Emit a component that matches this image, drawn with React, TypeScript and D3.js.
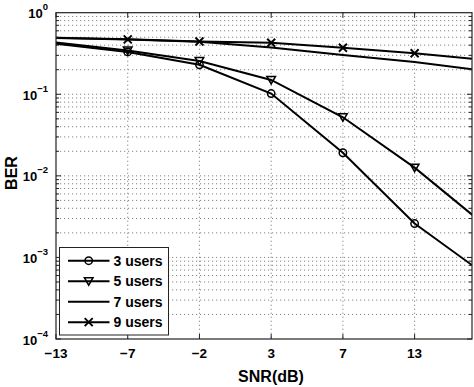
import * as d3 from "d3";
import { useEffect, useRef } from "react";

// x positions are evenly spaced indices, labelled with these SNR values
const snrLabels = ["−13", "−7", "−2", "3", "7", "13"];
// BER per index; the last point sits past the right edge of the axes
const ber3 = [0.415, 0.33, 0.23, 0.102, 0.0192, 0.0026, 0.0006];
const ber5 = [0.43, 0.345, 0.256, 0.15, 0.0523, 0.0126, 0.0024];
const ber7 = [0.49, 0.47, 0.44, 0.375, 0.303, 0.249, 0.193];
const ber9 = [0.494, 0.472, 0.443, 0.428, 0.372, 0.318, 0.262];
const seriesNames = ["3 users", "5 users", "7 users", "9 users"];
const seriesMarkers = ["circle", "triangle", "none", "cross"];
const yExponents = [0, -1, -2, -3, -4];

const FONT = "'Liberation Sans', Arial, Helvetica, sans-serif";

function drawMarker(g: any, kind: string, x: number, y: number) {
  if (kind === "circle") {
    g.append("circle")
      .attr("cx", x)
      .attr("cy", y)
      .attr("r", 3.7)
      .attr("fill", "none")
      .attr("stroke", "#000")
      .attr("stroke-width", 1.5);
  } else if (kind === "triangle") {
    g.append("path")
      .attr("d", `M${x - 4.3},${y - 3.5}L${x + 4.3},${y - 3.5}L${x},${y + 4}Z`)
      .attr("fill", "none")
      .attr("stroke", "#000")
      .attr("stroke-width", 1.5);
  } else if (kind === "cross") {
    g.append("path")
      .attr("d", `M${x - 4},${y - 4}L${x + 4},${y + 4}M${x - 4},${y + 4}L${x + 4},${y - 4}`)
      .attr("stroke", "#000")
      .attr("stroke-width", 1.9);
  }
}

export default function App() {
  const svgRef = useRef<SVGSVGElement>(null);

  useEffect(() => {
    const w = 474;
    const h = 387;
    const left = 56;
    const right = 472;
    const top = 12.7;
    const bottom = 339;

    const svg = d3.select(svgRef.current).attr("width", w).attr("height", h);
    svg.selectAll("*").remove();

    const x = d3.scaleLinear().domain([0, 5.8]).range([left, right]);
    const y = d3.scaleLog().domain([1e-4, 1]).range([bottom, top]);

    svg.append("rect").attr("width", w).attr("height", h).attr("fill", "#fff");

    //grid
    const grid = svg.append("g").attr("stroke", "#777").attr("stroke-width", 0.9).attr("stroke-dasharray", "1.2,2.8");
    snrLabels.forEach((_, i) => {
      if (i === 0) return;
      grid.append("line").attr("x1", x(i)).attr("x2", x(i)).attr("y1", top).attr("y2", bottom);
    });
    const minorVals: number[] = [];
    yExponents.slice(1).forEach((e) => {
      for (let j = 1; j <= 9; j++) minorVals.push(j * Math.pow(10, e));
    });
    minorVals.forEach((v) => {
      if (v <= 1e-4 || v >= 1) return;
      grid.append("line").attr("x1", left).attr("x2", right).attr("y1", y(v)).attr("y2", y(v));
    });

    //lines
    svg.append("clipPath").attr("id", "plot-clip")
      .append("rect").attr("x", left).attr("y", top).attr("width", right - left).attr("height", bottom - top);

    const series = [ber3, ber5, ber7, ber9];
    const line = d3.line<number>().x((_, i) => x(i)).y((v) => y(v));
    const plot = svg.append("g").attr("clip-path", "url(#plot-clip)");
    series.forEach((vals) => {
      plot.append("path").attr("d", line(vals)).attr("fill", "none").attr("stroke", "#000").attr("stroke-width", 2);
    });
    series.forEach((vals, s) => {
      vals.forEach((v, i) => {
        if (i === 0 || i >= snrLabels.length) return;
        drawMarker(plot, seriesMarkers[s], x(i), y(v));
      });
    });

    //axes box and ticks
    svg.append("rect")
      .attr("x", left).attr("y", top).attr("width", right - left).attr("height", bottom - top)
      .attr("fill", "none").attr("stroke", "#222").attr("stroke-width", 1.2);

    const ticks = svg.append("g").attr("stroke", "#222").attr("stroke-width", 1);
    snrLabels.forEach((_, i) => {
      ticks.append("line").attr("x1", x(i)).attr("x2", x(i)).attr("y1", bottom).attr("y2", bottom - 5);
      ticks.append("line").attr("x1", x(i)).attr("x2", x(i)).attr("y1", top).attr("y2", top + 5);
    });
    minorVals.forEach((v) => {
      const len = yExponents.some((e) => Math.abs(Math.pow(10, e) - v) < 1e-12) ? 5 : 3;
      ticks.append("line").attr("x1", left).attr("x2", left + len).attr("y1", y(v)).attr("y2", y(v));
      ticks.append("line").attr("x1", right).attr("x2", right - len).attr("y1", y(v)).attr("y2", y(v));
    });

    //tick labels
    snrLabels.forEach((lab, i) => {
      svg.append("text")
        .attr("x", x(i)).attr("y", 358)
        .attr("text-anchor", "middle")
        .attr("font-family", FONT).attr("font-weight", "bold").attr("font-size", 13.5)
        .text(lab);
    });
    yExponents.forEach((e) => {
      const t = svg.append("text")
        .attr("x", 48).attr("y", y(Math.pow(10, e)) + 5.5)
        .attr("text-anchor", "end")
        .attr("font-family", FONT).attr("font-weight", "bold").attr("font-size", 13);
      t.append("tspan").text("10");
      t.append("tspan").attr("dy", -8).attr("font-size", 9.5).text(e < 0 ? `−${-e}` : `${e}`);
    });

    //axis titles
    svg.append("text")
      .attr("x", 271).attr("y", 382)
      .attr("text-anchor", "middle")
      .attr("font-family", FONT).attr("font-weight", "bold").attr("font-size", 16)
      .text("SNR(dB)");
    svg.append("text")
      .attr("transform", "translate(17,173) rotate(-90)")
      .attr("text-anchor", "middle")
      .attr("font-family", FONT).attr("font-weight", "bold").attr("font-size", 16)
      .text("BER");

    //legend
    const lg = svg.append("g");
    lg.append("rect")
      .attr("x", 59.5).attr("y", 247.5).attr("width", 109).attr("height", 87.5)
      .attr("fill", "#fff").attr("stroke", "#222").attr("stroke-width", 1);
    seriesNames.forEach((name, s) => {
      const ly = 260.7 + s * 20.5;
      lg.append("line").attr("x1", 68).attr("x2", 109.5).attr("y1", ly).attr("y2", ly)
        .attr("stroke", "#000").attr("stroke-width", 2);
      drawMarker(lg, seriesMarkers[s], 88.7, ly);
      lg.append("text")
        .attr("x", 113.5).attr("y", ly + 5)
        .attr("font-family", FONT).attr("font-weight", "bold").attr("font-size", 14)
        .text(name);
    });
  }, []);

  return (
    <div>
      <svg ref={svgRef} style={{ position: "absolute", left: 0, top: 0 }}></svg>
    </div>
  );
}
